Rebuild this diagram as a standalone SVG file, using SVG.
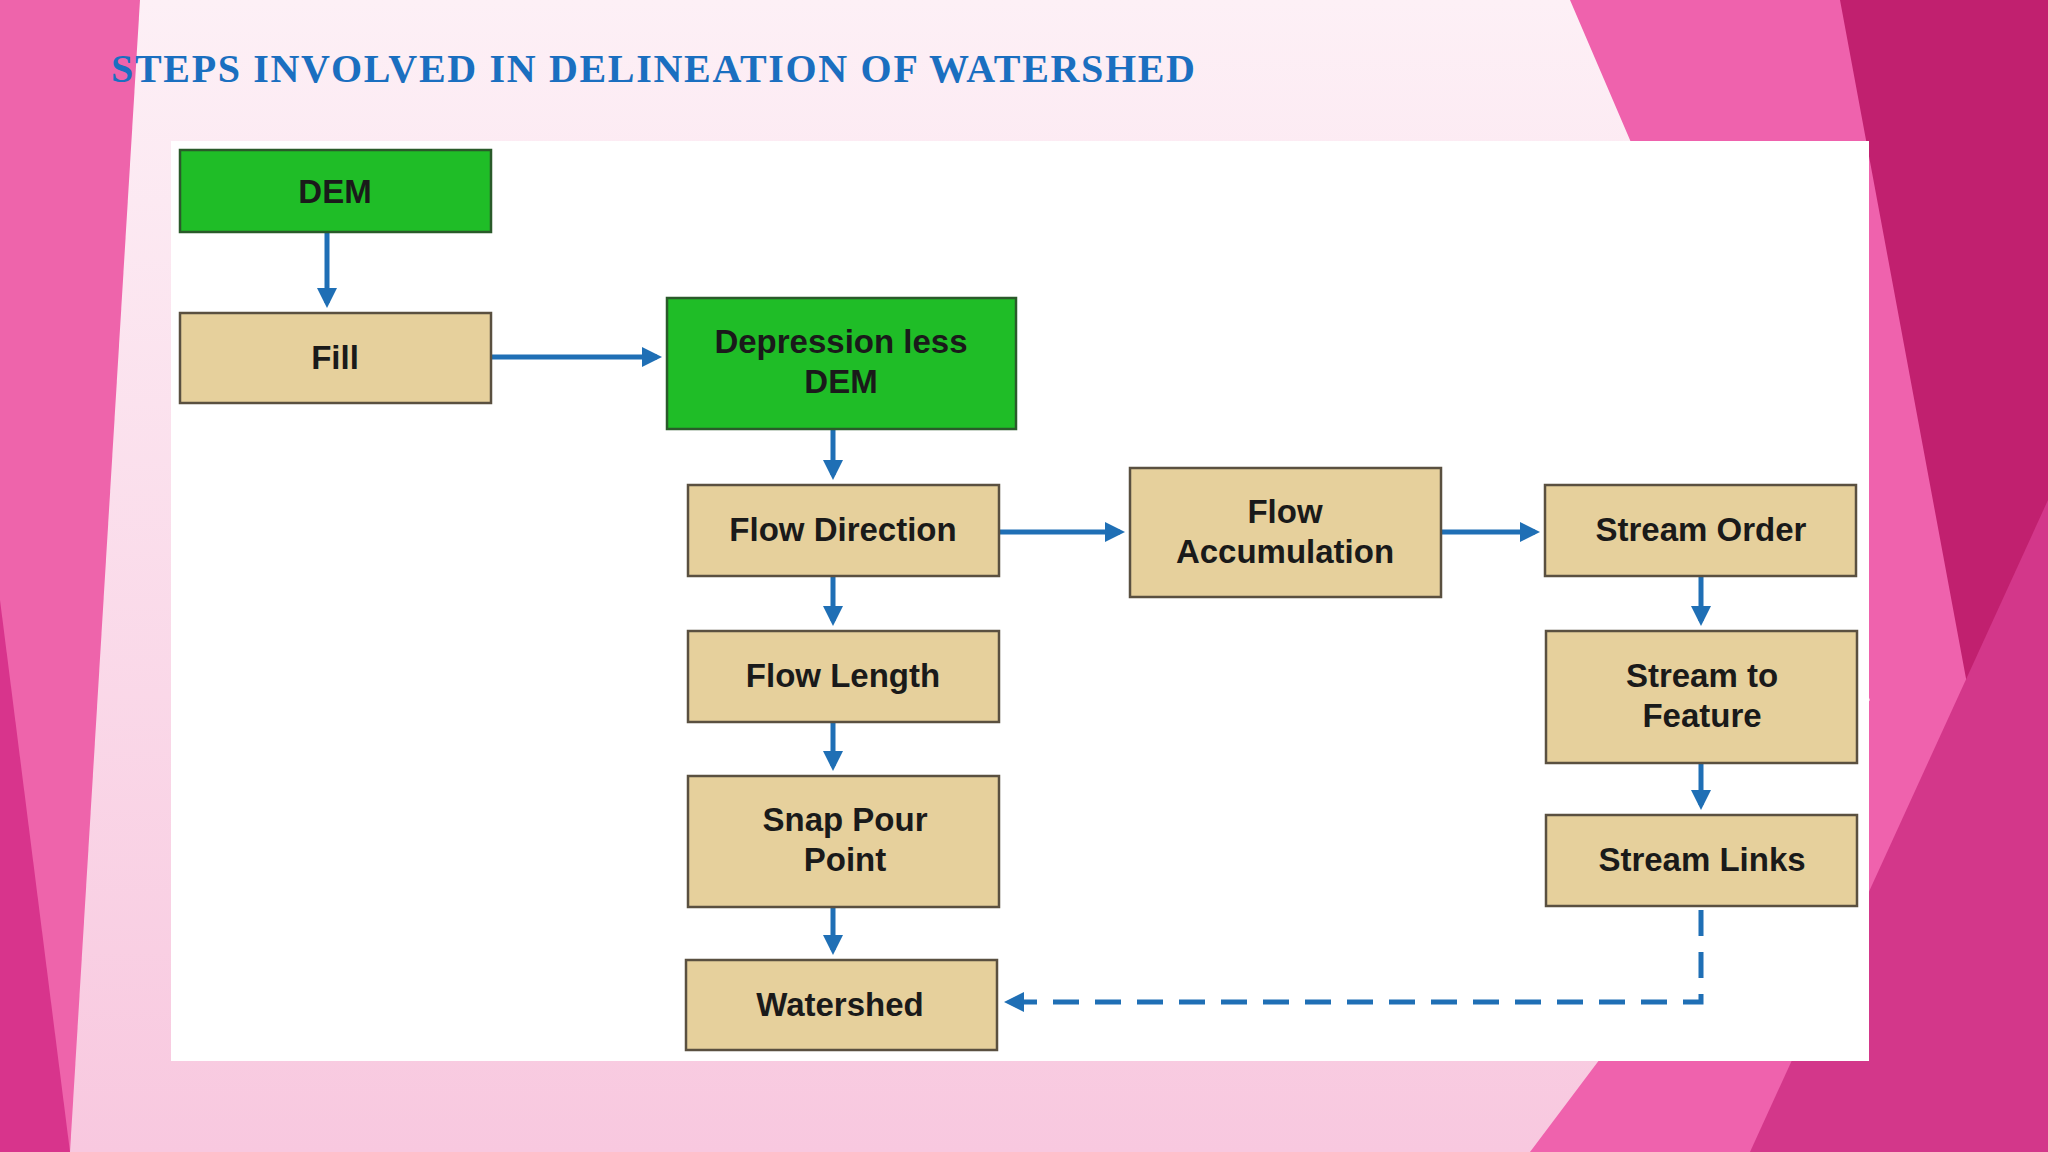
<svg xmlns="http://www.w3.org/2000/svg" width="2048" height="1152" viewBox="0 0 2048 1152">
<style>
.n{fill:#e6d09c;stroke:#5a5040;stroke-width:2.5}
.g{fill:#1fbd27;stroke:#2a5a2a;stroke-width:2.5}
.t{font-family:"Liberation Sans",Arial,sans-serif;font-weight:bold;font-size:33px;fill:#1a1a1a;text-anchor:middle}
.c{stroke:#1f6fb5;stroke-width:5;fill:none}
</style>
<defs>
<marker id="ah" markerWidth="4" markerHeight="4" refX="3" refY="2" orient="auto"><path d="M0,0 L4,2 L0,4 Z" fill="#1f6fb5"/></marker>
<linearGradient id="bg" x1="0" y1="0" x2="0" y2="1"><stop offset="0" stop-color="#fdf0f6"/><stop offset="1" stop-color="#f8c8df"/></linearGradient>
</defs>
<rect width="2048" height="1152" fill="url(#bg)"/>
<polygon points="0,0 140,0 70,1152 0,1152" fill="#ee64ab"/>
<polygon points="0,600 70,1152 0,1152" fill="#d8348c"/>
<polygon points="1570,0 2048,0 2048,1152 1530,1152 1870,700" fill="#ef62ad"/>
<polygon points="1840,0 2048,0 2048,1152 1990,1152 1970,700" fill="#c1206f"/>
<polygon points="1750,1152 2048,500 2048,1152" fill="#d3378a"/>
<text x="111" y="82" font-family="Liberation Serif,serif" font-weight="bold" font-size="40" fill="#1a6fc0" textLength="1084" lengthAdjust="spacing">STEPS INVOLVED IN DELINEATION OF WATERSHED</text>
<rect x="171" y="141" width="1698" height="920" fill="#ffffff"/>
<g id="connectors">
<line class="c" x1="327" y1="232" x2="327" y2="303" marker-end="url(#ah)"/>
<line class="c" x1="491" y1="357" x2="657" y2="357" marker-end="url(#ah)"/>
<line class="c" x1="833" y1="429" x2="833" y2="475" marker-end="url(#ah)"/>
<line class="c" x1="999" y1="532" x2="1120" y2="532" marker-end="url(#ah)"/>
<line class="c" x1="1441" y1="532" x2="1535" y2="532" marker-end="url(#ah)"/>
<line class="c" x1="1701" y1="576" x2="1701" y2="621" marker-end="url(#ah)"/>
<line class="c" x1="1701" y1="763" x2="1701" y2="805" marker-end="url(#ah)"/>
<line class="c" x1="833" y1="576" x2="833" y2="621" marker-end="url(#ah)"/>
<line class="c" x1="833" y1="722" x2="833" y2="766" marker-end="url(#ah)"/>
<line class="c" x1="833" y1="906" x2="833" y2="950" marker-end="url(#ah)"/>
<polyline class="c" points="1701,910 1701,1002 1009,1002" stroke-dasharray="26,16" marker-end="url(#ah)"/>
</g>
<g id="dem"><rect class="g" x="180" y="150" width="311" height="82"/><text class="t" x="335" y="203">DEM</text></g>
<g id="fill"><rect class="n" x="180" y="313" width="311" height="90"/><text class="t" x="335" y="369">Fill</text></g>
<g id="depdem"><rect class="g" x="667" y="298" width="349" height="131"/><text class="t" x="841" y="353">Depression less</text><text class="t" x="841" y="393">DEM</text></g>
<g id="flowdir"><rect class="n" x="688" y="485" width="311" height="91"/><text class="t" x="843" y="541">Flow Direction</text></g>
<g id="flowacc"><rect class="n" x="1130" y="468" width="311" height="129"/><text class="t" x="1285" y="523">Flow</text><text class="t" x="1285" y="563">Accumulation</text></g>
<g id="streamorder"><rect class="n" x="1545" y="485" width="311" height="91"/><text class="t" x="1701" y="541">Stream Order</text></g>
<g id="flowlen"><rect class="n" x="688" y="631" width="311" height="91"/><text class="t" x="843" y="687">Flow Length</text></g>
<g id="stf"><rect class="n" x="1546" y="631" width="311" height="132"/><text class="t" x="1702" y="687">Stream to</text><text class="t" x="1702" y="727">Feature</text></g>
<g id="spp"><rect class="n" x="688" y="776" width="311" height="131"/><text class="t" x="845" y="831">Snap Pour</text><text class="t" x="845" y="871">Point</text></g>
<g id="links"><rect class="n" x="1546" y="815" width="311" height="91"/><text class="t" x="1702" y="871">Stream Links</text></g>
<g id="ws"><rect class="n" x="686" y="960" width="311" height="90"/><text class="t" x="840" y="1016">Watershed</text></g>
</svg>
